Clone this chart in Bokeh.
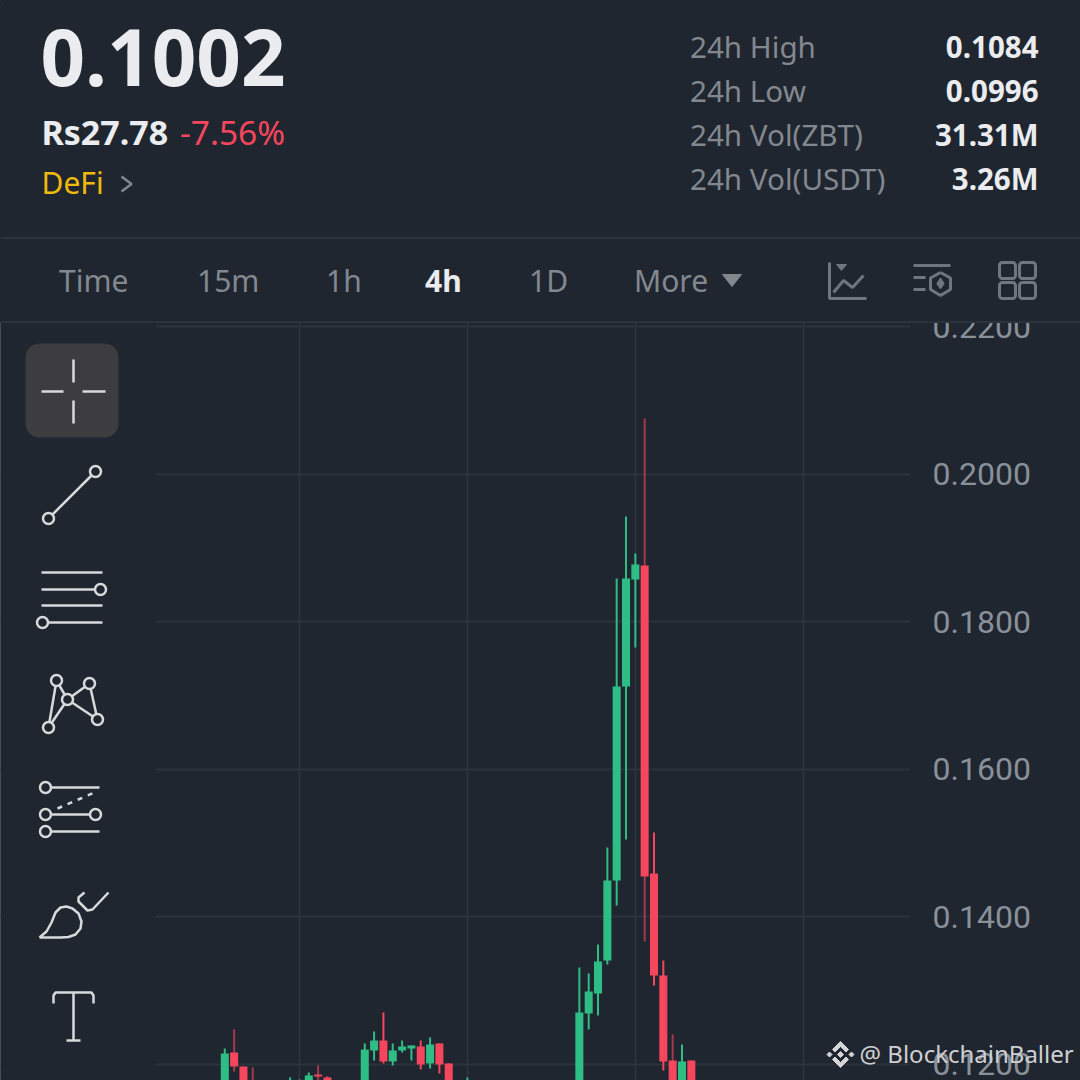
from bokeh.plotting import figure
from bokeh.models import (ColumnDataSource, Range1d, LinearAxis, FixedTicker, Grid,
                          PrintfTickFormatter)
from bokeh.core.properties import value
from bokeh.embed import file_html
from bokeh.resources import INLINE

# ---------- data ----------
candle_index = [0, 1, 2, 3, 7, 8, 9, 10, 11, 15, 16, 17, 18, 19, 20, 21, 22, 23, 24, 26,
                38, 39, 40, 41, 42, 43, 44, 45, 46, 47, 48, 49, 50]
candle_open = [.1160, .12163, .11973, .1175, .1165, .1170, .1170, .11864, .11824, .1165, .1219, .12325, .12041,
               .12190, .12217, .12244, .12014, .12285, .12014, .1175,
               .1150, .12692, .12963, .1341, .14495, .17125, .18576, .18766, .1459, .13207, .12054, .1165, .12054]
candle_close = [.12149, .11973, .1172, .1170, .1175, .1177, .11851, .11837, .1170, .12203, .12325, .12041, .1219,
                .12244, .12258, .12000, .12271, .12000, .1175, .1178,
                .12705, .1299, .13397, .14495, .17125, .1859, .1878, .14549, .13207, .12041, .1170, .12041, .1160]
candle_high = [.12217, .12475, .11973, .11959, .11824, .11797, .11892, .11986, .11837, .12285, .12447, .12705, .12285,
               .12325, .12258, .12325, .12366, .12285, .12014, .11824,
               .13315, .13234, .13627, .14942, .1859, .1943, .18929, .20759, .15146, .1341, .12407, .12271, .12054]
candle_low = [.1150, .11905, .1165, .1165, .1160, .1165, .1165, .1170, .1165, .1160, .12054, .12014, .11986,
              .12163, .12054, .11932, .11946, .11878, .1170, .1170,
              .1145, .12475, .12664, .13356, .14156, .15051, .17654, .13668, .13071, .11919, .1160, .1160, .1150]
price_ticks = [.12, .14, .16, .18, .20, .22]
time_grid = [8, 26, 44, 62]

stat_labels = ["24h High", "24h Low", "24h Vol(ZBT)", "24h Vol(USDT)"]
stat_values = ["0.1084", "0.0996", "31.31M", "3.26M"]
tab_labels = ["Time", "15m", "1h", "4h", "1D", "More"]
active_tab = "4h"

BG = "#1F2630"; GREEN = "#2EBD85"; RED = "#F6465D"; WHITE = "#EAECEF"
GREY = "#83888F"; ICON = "#6F7681"; TOOL = "#D8D9DB"; GRID = "#2C333C"
HFONT = "Noto Sans"
dim_wicks = {1, 3, 10, 45, 48}

# Main ranges are candle index and price; "px" is a page-pixel range for the interface chrome.
p = figure(width=1080, height=1080, x_range=Range1d(-24.04, 91.71), y_range=Range1d(.11783, .26427),
           x_axis_type=None, y_axis_type=None, toolbar_location=None, output_backend="svg",
           background_fill_color=BG, border_fill_color=BG, outline_line_color=None,
           min_border=0, min_border_left=0, min_border_right=0, min_border_top=0, min_border_bottom=0)
p.extra_x_ranges["px"] = Range1d(0, 1080)
p.extra_y_ranges["px"] = Range1d(1080, 0)
PX = dict(x_range_name="px", y_range_name="px")
TOP = dict(level="overlay", **PX)

p.add_layout(Grid(dimension=0, ticker=FixedTicker(ticks=time_grid), grid_line_color=GRID, grid_line_width=2))
p.add_layout(Grid(dimension=1, ticker=FixedTicker(ticks=price_ticks), grid_line_color=GRID, grid_line_width=2))
# side strips hide the grid outside the plotting area
p.quad(left=[0, 910], right=[155, 1080], top=[0, 0], bottom=[1080, 1080], color=BG, **PX)

axis = LinearAxis(ticker=FixedTicker(ticks=price_ticks), formatter=PrintfTickFormatter(format="%.4f"),
                  fixed_location=73.5,
                  axis_line_color=None, major_tick_line_color=None, minor_tick_line_color=None,
                  major_label_text_font="Roboto", major_label_text_font_size="32px",
                  major_label_text_color="#8A9099", major_label_standoff=16)
p.add_layout(axis, "right")

colors = [GREEN if c >= o else RED for o, c in zip(candle_open, candle_close)]
wick_alpha = [0.62 if i in dim_wicks else 1.0 for i in candle_index]
src = ColumnDataSource(dict(x=candle_index, o=candle_open, c=candle_close, h=candle_high, l=candle_low,
                            col=colors, wa=wick_alpha))
p.segment("x", "h", "x", "l", source=src, line_color="col", line_alpha="wa", line_width=2)
p.vbar(x="x", bottom="o", top="c", width=.86, source=src, fill_color="col", line_color=None)


def txt(x, y, s, size, color, align="left", bold=False, font=HFONT):
    p.text([x], [y], text=[s], text_font=value(font), text_font_size=f"{size}px", text_color=color,
           text_align=align, text_baseline="middle", text_font_style="bold" if bold else "normal", **TOP)


# ---------- header (covers the upper part of the 0.2200 label) ----------
p.quad(left=[0], right=[1080], top=[0], bottom=[322], color=BG, **TOP)
txt(40, 57, "0.1002", 78, WHITE, bold=True)
txt(41, 131, "Rs27.78", 34, WHITE, bold=True)
txt(179.5, 131, "-7.56%", 33.5, RED)
txt(41, 182, "DeFi", 30, "#F0B90B")
p.line([121, 131, 121], [176, 183.5, 191], line_color=GREY, line_width=2.5, **TOP)
for lab, val, y in zip(stat_labels, stat_values, [46, 90, 134, 178]):
    txt(689.5, y, lab, 29.6, GREY)
    txt(1038, y, val, 29.5, WHITE, align="right", bold=True)
p.line([0, 1080], [237.5, 237.5], line_color="#323941", line_width=1.5, **TOP)
p.line([0, 1080], [321.5, 321.5], line_color=GRID, line_width=2, **TOP)
for lab, x in zip(tab_labels, [58.5, 196.5, 325.5, 424.5, 528.5, 633.5]):
    act = lab == active_tab
    txt(x, 280, lab, 30, WHITE if act else GREY, bold=act)
p.patch([722, 741, 731.5], [274, 274, 286], color=GREY, **TOP)
p.line([829, 829, 866], [262, 298, 298], line_color=ICON, line_width=3, **TOP)
p.patch([836, 846, 841], [264, 264, 270], color=ICON, **TOP)
p.line([833, 843, 852, 863], [292, 280, 287, 275], line_color=ICON, line_width=3, **TOP)
p.multi_line([[913, 950], [913, 925], [913, 925]], [[265, 265], [277, 277], [289, 289]],
             line_color=ICON, line_width=3, **TOP)
p.line([940, 950, 950, 940, 930, 930, 940], [272, 277.5, 289, 295, 289, 277.5, 272],
       line_color=ICON, line_width=3, **TOP)
p.scatter([940], [283], marker="diamond", size=11, color=ICON, **TOP)
p.quad(left=[999, 1019, 999, 1019], right=[1015, 1035, 1015, 1035], top=[262, 262, 282, 282],
       bottom=[278, 278, 298, 298], fill_color=None, line_color=ICON, line_width=3, border_radius=3, **TOP)

# ---------- tool rail ----------
p.quad(left=[25], right=[118], top=[343], bottom=[437], fill_color="#3D3D3F", line_color=None,
       border_radius=14, **PX)
segs = [
    ([73, 73], [359, 382]), ([73, 73], [400, 423]), ([41, 63], [391, 391]), ([82, 105], [391, 391]),
    ([48, 95], [518, 471]),
    ([41, 102], [572, 572]), ([41, 100], [589, 589]), ([41, 102], [605, 605]), ([42, 102], [622, 622]),
    ([56, 48], [680, 727]), ([56, 67], [680, 699]), ([67, 48], [699, 727]), ([67, 89], [699, 683]),
    ([67, 97], [699, 719]), ([89, 97], [683, 719]),
    ([45, 99], [787, 787]), ([45, 95], [814, 814]), ([45, 99], [831, 831]),
    ([39, 46, 51, 55, 60, 66, 72, 78, 81, 80, 75, 68, 60, 39],
     [937, 931, 922, 912, 907, 906, 908, 913, 921, 928, 934, 936.5, 937, 937]),
    ([84, 78, 78, 87, 92, 108], [892, 897, 901, 910, 909, 892]),
    ([53, 53, 55, 91, 93, 93], [1003, 995, 992, 992, 995, 1003]), ([73, 73], [992, 1040]), ([66, 80], [1040, 1040]),
]
p.multi_line([s[0] for s in segs], [s[1] for s in segs], line_color=TOOL, line_width=2.5, **PX)
p.line([57, 94], [808, 792], line_color=TOOL, line_width=2.5, line_dash="5 6", **PX)
cx = [48, 95, 100, 42, 56, 89, 67, 97, 48, 45, 45, 95, 45]
cy = [518, 471, 589, 622, 680, 683, 699, 719, 727, 787, 814, 814, 831]
p.scatter(cx, cy, marker="circle", size=11, fill_color=BG, line_color=TOOL, line_width=2.5, **PX)

# ---------- watermark ----------
p.patches([[840, 848, 845.5, 840, 834.5, 832], [840, 848, 845.5, 840, 834.5, 832],
           [826.5, 829, 831.5, 829], [848.5, 851, 853.5, 851], [837, 840, 843, 840]],
          [[1041, 1049, 1051.5, 1046, 1051.5, 1049], [1067, 1059, 1056.5, 1062, 1056.5, 1059],
           [1054, 1051.5, 1054, 1056.5], [1054, 1051.5, 1054, 1056.5], [1054, 1051, 1054, 1057]],
          color="#D5D5D7", **TOP)
txt(859, 1053, "@ BlockchainBaller", 24, "#CFCFD2")

open("out.html", "w").write(file_html(p, INLINE, title="chart"))
